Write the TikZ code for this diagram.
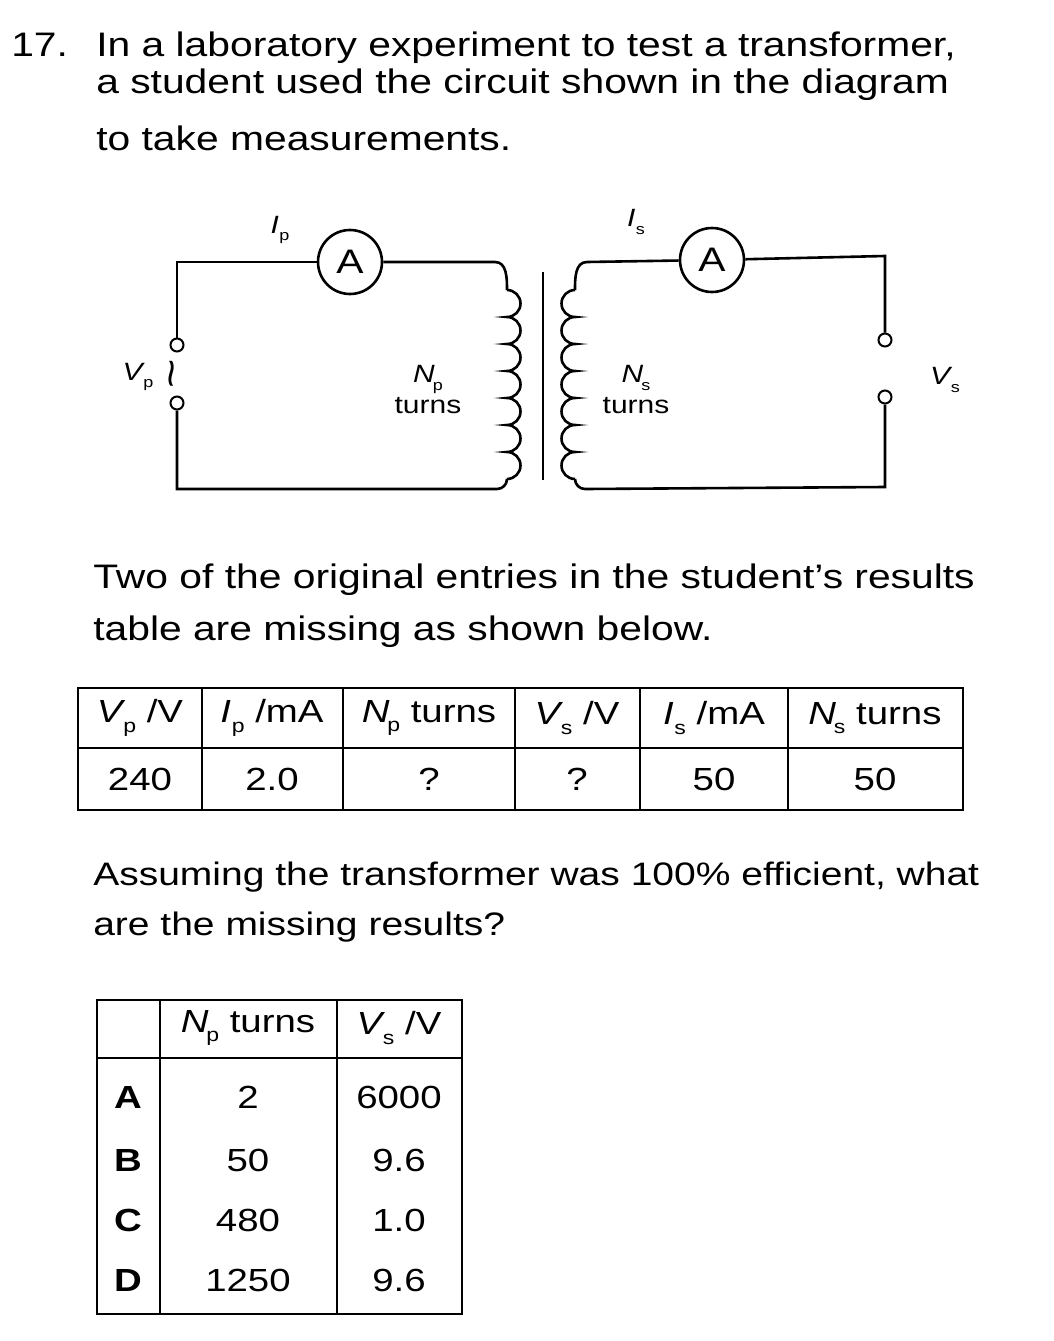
\documentclass[tikz,border=0pt]{standalone}
\usepackage{fontspec}
\setmainfont[FakeStretch=1.2]{Liberation Sans}
\newcommand\qsub[3][-0.07em]{\textit{#2}\kern#1\raisebox{-0.3em}{\scalebox{0.6}{#3}}}
\begin{document}
\begin{tikzpicture}[x=1pt,y=1pt,line width=2.6pt,
  txt/.style={anchor=base west,inner sep=0pt,font=\fontsize{34}{38}\selectfont},
  lab/.style={inner sep=0pt,font=\fontsize{25}{28}\selectfont},
  cell/.style={inner sep=0pt,font=\fontsize{32}{36}\selectfont},
  meter/.style={circle,draw,minimum size=64pt,inner sep=0pt,font=\fontsize{34}{38}\selectfont},
  term/.style={circle,draw,line width=2pt,minimum size=13pt,inner sep=0pt},
  grid/.style={line width=2.2pt}]
\useasboundingbox (0,0) rectangle (1053,-1341);
% question text
\node[txt] (q0) at (10,-56) {17.};
\node[txt] (q1) at (95,-56) {In a laboratory experiment to test a transformer,};
\node[txt] (q2) at (95,-93) {a student used the circuit shown in the diagram};
\node[txt] (q3) at (95,-150) {to take measurements.};
% primary circuit
\node[meter] (A1) at (350,-262) {A};
\node[meter] (A2) at (712,-260) {A};
\node[term] (t1) at (177,-345) {};
\node[term] (t2) at (177,-403) {};
\node[term] (t3) at (885,-340) {};
\node[term] (t4) at (885,-397) {};
\coordinate (c1) at (507,-290);
\coordinate (c2) at (575,-290);
\draw (t1) -- (177,-262) -- (A1);
\draw (A1) -- (495,-262) to[out=0,in=90] (c1);
\draw (c1) \foreach \i in {1,...,7} { arc[start angle=90,end angle=-90,radius=13.5] };
\draw (507,-479) to[out=-90,in=0] (497,-489) -- (177,-489) -- (t2);
\node[inner sep=0pt,rotate=90,font=\fontsize{42}{42}\selectfont] (tilde) at (177,-374) {\char`\~};
% core
\draw (543,-272) -- (543,-480);
% secondary
\draw (c2) \foreach \i in {1,...,7} { arc[start angle=90,end angle=270,radius=13.5] };
\draw (c2) to[out=90,in=180] (587,-262) -- (A2);
\draw (A2) -- (885,-256) -- (t3);
\draw (575,-479) to[out=-90,in=180] (585,-489) -- (885,-487) -- (t4);
% labels
\node[lab] (vp) at (138,-377) {\qsub{V}{p}};
\node[lab] (ip) at (280,-230) {\qsub[0.02em]{I}{p}};
\node[lab] (is) at (636,-222) {\qsub[0.02em]{I}{s}};
\node[lab] (vs) at (945,-380) {\qsub{V}{s}};
\node[lab,align=center] (np) at (428,-390) {\qsub{N}{p}\\[3pt]turns};
\node[lab,align=center] (ns) at (636,-390) {\qsub{N}{s}\\[3pt]turns};
% paragraph
\node[txt] (p1) at (92,-588) {Two of the original entries in the student's results};
\node[txt] (p2) at (92,-640) {table are missing as shown below.};
% table 1
\draw[grid] (78,-688) rectangle (963,-810);
\draw[grid] (78,-748) -- (963,-748);
\foreach \x in {202,343,515,640,788} \draw[grid] (\x,-688) -- (\x,-810);
\node[cell] (h1) at (140,-718) {\qsub{V}{p} /V};
\node[cell] (h2) at (272,-718) {\qsub[0.02em]{I}{p} /mA};
\node[cell] (h3) at (429,-718) {\qsub{N}{p} turns};
\node[cell] (h4) at (577,-718) {\qsub{V}{s} /V};
\node[cell] (h5) at (714,-718) {\qsub[0.02em]{I}{s} /mA};
\node[cell] (h6) at (875,-718) {\qsub{N}{s} turns};
\node[cell] (d1) at (140,-779) {240};
\node[cell] (d2) at (272,-779) {2.0};
\node[cell] (d3) at (429,-779) {?};
\node[cell] (d4) at (577,-779) {?};
\node[cell] (d5) at (714,-779) {50};
\node[cell] (d6) at (875,-779) {50};
% question
\node[txt,font=\fontsize{32.5}{38}\selectfont] (r1) at (92,-885) {Assuming the transformer was 100\% efficient, what};
\node[txt,font=\fontsize{32.5}{38}\selectfont] (r2) at (92,-935) {are the missing results?};
% table 2
\draw[grid] (97,-1000) rectangle (462,-1314);
\draw[grid] (97,-1058) -- (462,-1058);
\foreach \x in {160,337} \draw[grid] (\x,-1000) -- (\x,-1314);
\node[cell] (k1) at (248,-1028) {\qsub{N}{p} turns};
\node[cell] (k2) at (399,-1028) {\qsub{V}{s} /V};
\foreach \l/\a/\b/\y in {A/2/6000/1097,B/50/9.6/1160,C/480/1.0/1220,D/1250/9.6/1280}{
  \node[cell] (L\l) at (128,-\y) {\textbf{\l}};
  \node[cell] (N\l) at (248,-\y) {\a};
  \node[cell] (V\l) at (399,-\y) {\b};
}
\end{tikzpicture}
\end{document}
